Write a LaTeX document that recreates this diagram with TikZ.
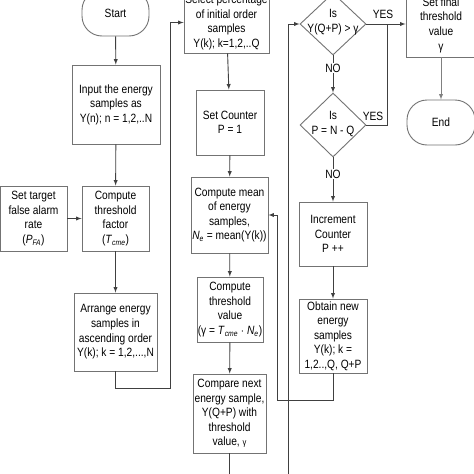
\documentclass[tikz,border=0pt]{standalone}
\usepackage{fontspec}
\setmainfont[FakeStretch=0.85]{Liberation Sans}
\usetikzlibrary{shapes.geometric}
\definecolor{boxgray}{gray}{0.45}
\definecolor{linegray}{gray}{0.25}
\begin{document}
\begin{tikzpicture}[x=1pt,y=-1pt,>=latex,
  font=\fontsize{12}{14.6}\selectfont,
  box/.style={draw=boxgray,line width=0.9pt,fill=white,inner sep=0pt,align=center},
  term/.style={box,rounded corners=20pt},
  dia/.style={draw=boxgray,line width=0.9pt,fill=white,shape=diamond,inner sep=0pt},
  flow/.style={->,draw=linegray,line width=0.9pt}]
\useasboundingbox (0,0) rectangle (474,474);
\clip (0,0) rectangle (474,474);
\fill[white] (0,0) rectangle (474,474);
% first column
\node[term,minimum width=67pt,minimum height=46pt] (start) at (115.5,13) {Start};
\node[box,minimum width=88pt,minimum height=79pt] (input) at (116,104.5)
  {Input the energy\\samples as\\Y(n); n = 1,2,..N};
\node[box,minimum width=67pt,minimum height=65pt] (target) at (33.5,218.5)
  {Set target\\false alarm\\rate\\(\textit{P}\textsubscript{\textit{FA}})};
\node[box,minimum width=67pt,minimum height=65pt] (factor) at (115.5,218.5)
  {Compute\\threshold\\factor\\(\textit{T}\textsubscript{\textit{cme}})};
\node[box,minimum width=83pt,minimum height=78pt] (arrange) at (115.5,332)
  {Arrange energy\\samples in\\ascending order\\Y(k); k = 1,2,...,N};
% second column
\node[box,minimum width=85pt,minimum height=61pt] (select) at (226.5,22.5)
  {Select percentage\\of initial order\\samples\\Y(k); k=1,2,..Q};
\node[box,minimum width=68pt,minimum height=65pt] (counter) at (230,122.5)
  {Set Counter\\P = 1};
\node[box,minimum width=77pt,minimum height=76pt] (mean) at (229.5,215)
  {Compute mean\\of energy\\samples,\\\textit{N}\textsubscript{\textit{e}} = mean(Y(k))};
\node[box,minimum width=66pt,minimum height=65pt] (value) at (230,309.5)
  {Compute\\threshold\\value\\(γ = \textit{T}\textsubscript{\textit{cme}} $\cdot$ \textit{N}\textsubscript{\textit{e}})};
\node[box,minimum width=73pt,minimum height=79pt] (compare) at (229.5,413.5)
  {Compare next\\energy sample,\\Y(Q+P) with\\threshold\\value, {\small γ}};
% third column
\node[dia,minimum width=66pt,minimum height=62pt] (d1) at (333,24) {};
\node[align=center] (d1txt) at (333,22) {Is\\Y(Q+P) > γ};
\node[dia,minimum width=66pt,minimum height=64pt] (d2) at (333,125) {};
\node[align=center] (d2txt) at (333,124) {Is\\P = N - Q};
\node[box,minimum width=68pt,minimum height=64pt] (incr) at (333,234)
  {Increment\\Counter\\P ++};
\node[box,minimum width=68pt,minimum height=74pt] (obtain) at (333,336)
  {Obtain new\\energy\\samples\\Y(k); k =\\1,2..,Q, Q+P};
% fourth column
\node[box,minimum width=70pt,minimum height=64pt] (final) at (441,25)
  {Set final\\threshold\\value\\γ};
\node[term,minimum width=68pt,minimum height=45pt] (end) at (441,122.5) {End};
% labels
\node[fill=white,inner sep=1pt] (no1) at (333,68) {NO};
\node[fill=white,inner sep=1pt] (no2) at (333,174) {NO};
\node (yes1) at (383,14) {YES};
\node (yes2) at (373,116) {YES};
% junctions
\coordinate (j1) at (170,388);
\coordinate (j2) at (288,490);
\coordinate (j3) at (387,24);
\coordinate (j4) at (277,400);
% connectors
\draw[flow] (start) -- (input);
\draw[flow] (input) -- (factor);
\draw[flow] (target) -- (factor);
\draw[flow] (factor) -- (arrange);
\draw[flow] (arrange.south) |- (j1) |- (select.west);
\draw[flow] (select) -- (counter);
\draw[flow] (counter) -- (mean);
\draw[flow] (mean) -- (value);
\draw[flow] (value) -- (compare);
\draw[flow] (compare.south) |- (j2) |- (d1.west);
\draw[flow] (d1.east) -- (d1.east -| final.west);
\draw[flow,-] (d2.east) -| (j3);
\draw[flow,-] (d1.south) -- (no1);
\draw[flow] (no1) -- (d2.north);
\draw[flow,-] (d2.south) -- (no2);
\draw[flow] (no2) -- (incr);
\draw[flow] (incr) -- (obtain);
\draw[flow] (obtain.south) |- (j4) |- (mean.east);
\draw[flow,draw=gray] (final) -- (end);
\end{tikzpicture}
\end{document}
